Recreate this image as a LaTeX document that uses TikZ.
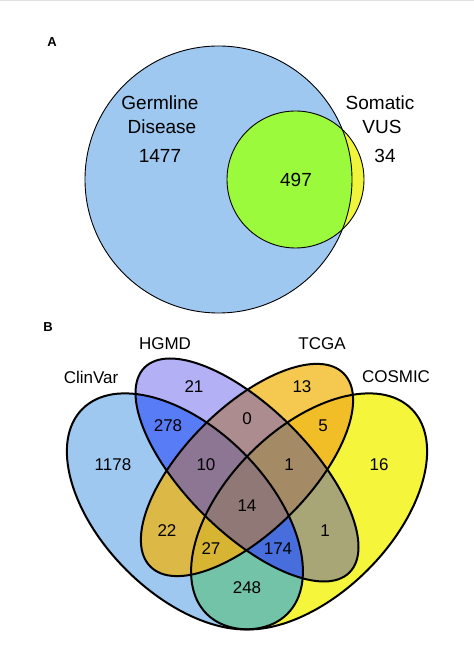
\documentclass[tikz,border=0pt]{standalone}
\usepackage{fontspec}
\setmainfont{Liberation Sans}
\definecolor{gBlue}{RGB}{158,200,240}
\definecolor{gGreen}{RGB}{155,250,60}
\definecolor{gYellow}{RGB}{240,245,60}
\definecolor{cvOnly}{RGB}{158,200,240}
\definecolor{hgOnly}{RGB}{180,176,245}
\definecolor{tcOnly}{RGB}{245,200,80}
\definecolor{coOnly}{RGB}{245,245,60}
\definecolor{cvhg}{RGB}{88,124,245}
\definecolor{cvtc}{RGB}{220,185,70}
\definecolor{cvco}{RGB}{115,195,168}
\definecolor{hgtc}{RGB}{172,140,142}
\definecolor{hgco}{RGB}{168,165,118}
\definecolor{tcco}{RGB}{242,190,40}
\definecolor{cvhgtc}{RGB}{140,118,148}
\definecolor{cvhgco}{RGB}{72,110,222}
\definecolor{cvtcco}{RGB}{215,180,50}
\definecolor{hgtcco}{RGB}{165,138,102}
\definecolor{allfour}{RGB}{143,120,118}
\definecolor{topband}{RGB}{225,225,225}
\def\pGerm{(218.5,471.5) circle[radius=133.5pt]}
\def\pSom{(295.5,471.5) circle[radius=68.5pt]}
\def\pCV{(184.9,139.6) circle[x radius=144.9pt, y radius=82.8pt, rotate=-45]}
\def\pHG{(247,181) circle[x radius=144.9pt, y radius=62.1pt, rotate=-45]}
\def\pTC{(247,181) circle[x radius=136.6pt, y radius=62.1pt, rotate=45]}
\def\pCO{(309.1,139.6) circle[x radius=144.9pt, y radius=82.8pt, rotate=45]}
\tikzset{
  toplabel/.style={font=\fontsize{19}{21}\selectfont, inner sep=0pt},
  botlabel/.style={font=\fontsize{17}{19}\selectfont, inner sep=0pt},
  panel/.style={font=\fontsize{13}{14}\selectfont\bfseries, inner sep=0pt},
  topline/.style={draw=black, line width=0.9pt},
  botline/.style={draw=black, line width=2pt}
}
\begin{document}
\begin{tikzpicture}[x=1pt,y=1pt]
\useasboundingbox (0,0) rectangle (474,651);
\fill[white] (0,0) rectangle (474,651);
\fill[topband] (0,649.5) rectangle (474,651);
% ---- Panel A ----
\fill[gBlue] \pGerm;
\fill[gYellow] \pSom;
\begin{scope}
  \clip \pGerm;
  \fill[gGreen] \pSom;
\end{scope}
\draw[topline] \pGerm;
\draw[topline] \pSom;
\node[panel] (labA) at (52,609) {A};
\node[toplabel] (germ1) at (160,548) {Germline};
\node[toplabel] (germ2) at (162,524) {Disease};
\node[toplabel] (germn) at (160,495) {1477};
\node[toplabel] (som1) at (380,548) {Somatic};
\node[toplabel] (som2) at (382,524) {VUS};
\node[toplabel] (somn) at (385,495) {34};
\node[toplabel] (both) at (296,471) {497};
% ---- Panel B ----
% singles
\fill[cvOnly] \pCV;
\fill[hgOnly] \pHG;
\fill[tcOnly] \pTC;
\fill[coOnly] \pCO;
% pairs
\begin{scope}\clip \pCV; \fill[cvhg] \pHG;\end{scope}
\begin{scope}\clip \pCV; \fill[cvtc] \pTC;\end{scope}
\begin{scope}\clip \pCV; \fill[cvco] \pCO;\end{scope}
\begin{scope}\clip \pHG; \fill[hgtc] \pTC;\end{scope}
\begin{scope}\clip \pHG; \fill[hgco] \pCO;\end{scope}
\begin{scope}\clip \pTC; \fill[tcco] \pCO;\end{scope}
% triples
\begin{scope}\clip \pCV; \clip \pHG; \fill[cvhgtc] \pTC;\end{scope}
\begin{scope}\clip \pCV; \clip \pHG; \fill[cvhgco] \pCO;\end{scope}
\begin{scope}\clip \pCV; \clip \pTC; \fill[cvtcco] \pCO;\end{scope}
\begin{scope}\clip \pHG; \clip \pTC; \fill[hgtcco] \pCO;\end{scope}
% all four
\begin{scope}\clip \pCV; \clip \pHG; \clip \pTC; \fill[allfour] \pCO;\end{scope}
% outlines
\draw[botline] \pCV;
\draw[botline] \pHG;
\draw[botline] \pTC;
\draw[botline] \pCO;
\node[panel] (labB) at (48,324) {B};
\node[botlabel] (nHG) at (165,307) {HGMD};
\node[botlabel] (nTC) at (322,307) {TCGA};
\node[botlabel] (nCV) at (91,274) {ClinVar};
\node[botlabel] (nCO) at (396,274) {COSMIC};
\node[botlabel] (r21) at (194,264) {21};
\node[botlabel] (r13) at (302,264) {13};
\node[botlabel] (r278) at (168,225) {278};
\node[botlabel] (r0) at (247,232) {0};
\node[botlabel] (r5) at (323,225) {5};
\node[botlabel] (r1178) at (113,186) {1178};
\node[botlabel] (r10) at (206,186) {10};
\node[botlabel] (r1a) at (289,186) {1};
\node[botlabel] (r16) at (379,186) {16};
\node[botlabel] (r14) at (247,145) {14};
\node[botlabel] (r22) at (167,120) {22};
\node[botlabel] (r1b) at (325,120) {1};
\node[botlabel] (r27) at (211,102) {27};
\node[botlabel] (r174) at (278,102) {174};
\node[botlabel] (r248) at (247,63) {248};
\end{tikzpicture}
\end{document}
